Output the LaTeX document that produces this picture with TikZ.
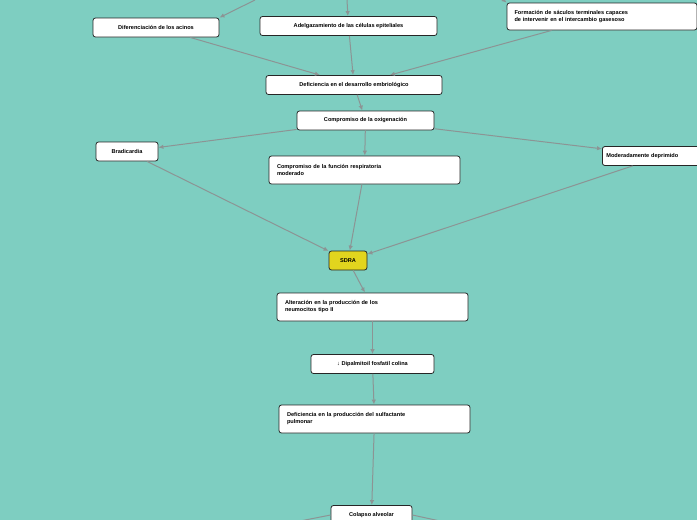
\documentclass[tikz,border=0pt]{standalone}
\usepackage{fontspec}
\setmainfont{Liberation Sans}
\definecolor{bg}{HTML}{7ECEC1}
\definecolor{ln}{HTML}{8C9494}
\definecolor{yel}{HTML}{E2D51E}
\begin{document}
\begin{tikzpicture}[x=1pt,y=-1pt,
 box/.style={draw=black!85,fill=white,rounded corners=2.5pt,line width=0.8pt,font=\bfseries\fontsize{5.6}{7}\selectfont,inner sep=0pt,minimum height=19pt},
 wbox/.style={box,text width=#1,align=left,minimum height=28pt},
 con/.style={draw=ln,line width=1pt,-{Latex[length=5pt,width=4.5pt]}}]
\usetikzlibrary{arrows.meta}
\useasboundingbox[fill=bg] (0,0) rectangle (697,520);
\node[box,minimum width=126pt] (acin) at (156,27.5) {Diferenciación de los acinos};
\node[box,minimum width=177pt] (adel) at (348.5,26) {Adelgazamiento de las células epiteliales};
\node[box,minimum width=190pt,minimum height=27pt,text width=175pt,align=left] (form) at (602,16.5) {Formación de sáculos\ terminales\ capaces\\de intervenir en el intercambio gasesoso};
\node[box,minimum width=176pt] (emb) at (354,85) {Deficiencia en el desarrollo embriológico};
\node[box,minimum width=137pt] (oxi) at (365.5,120.5) {Compromiso de la oxigenación};
\node[box,minimum width=62pt] (bra) at (127,151.5) {Bradicardia};
\node[wbox=175pt,minimum width=191pt] (fun) at (364.5,170) {Compromiso de la función respiratoria\\moderado};
\node[box,minimum width=120pt,anchor=west,text width=112pt,align=left] (mod) at (602,156) {Moderadamente deprimido};
\node[box,fill=yel,minimum width=38pt] (sdra) at (348,260.5) {SDRA};
\node[wbox=175pt,minimum width=191pt] (alt) at (372.5,307) {Alteración en la producción de los\\neumocitos tipo II};
\node[box,minimum width=123pt] (dip) at (372.5,364) {↓ Dipalmitoil fosfatil colina};
\node[wbox=175pt,minimum width=191pt] (sul) at (374.5,419) {Deficiencia en la producción del sulfactante\\pulmonar};
\node[box,minimum width=81pt] (col) at (371.5,515) {Colapso alveolar};
\coordinate (t1) at (255,0); \coordinate (t2) at (347,0); \coordinate (t3) at (500,-3);
\coordinate (b1) at (300,521); \coordinate (b2) at (440,521);
\draw[con] (t1) -- (acin.north east);
\draw[con] (t2) -- (adel);
\draw[con] (t3) -- (form.north west);
\draw[con] (acin) -- (emb);
\draw[con] (adel) -- (emb);
\draw[con] (form) -- (emb);
\draw[con] (emb) -- (oxi);
\draw[con] (oxi) -- (bra);
\draw[con] (oxi) -- (fun);
\draw[con] (oxi) -- (mod);
\draw[con] (bra) -- (sdra);
\draw[con] (fun) -- (sdra);
\draw[con] (mod) -- (sdra);
\draw[con] (sdra) -- (alt);
\draw[con] (alt) -- (dip);
\draw[con] (dip) -- (sul);
\draw[con] (sul) -- (col);
\draw[draw=ln,line width=1pt] (col.west) -- (b1) (col.east) -- (b2);
\end{tikzpicture}
\end{document}
